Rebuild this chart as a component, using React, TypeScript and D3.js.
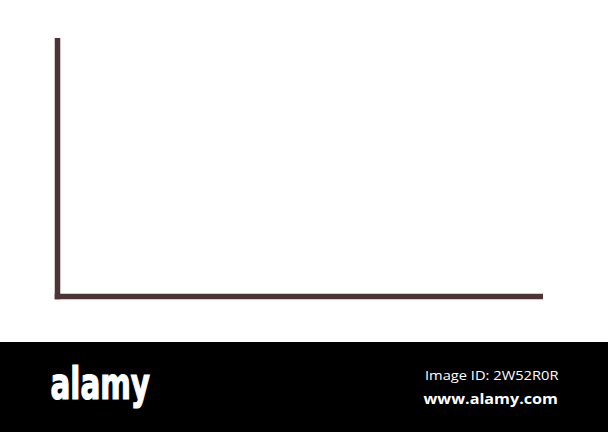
import React from "react";
import * as d3 from "d3";

const categories: string[] = [];
const values: number[] = [];
const xTickLabels: string[] = [];
const yTickLabels: string[] = [];
const brandText = "alamy";
const imageIdText = "Image ID: 2W52R0R";
const urlText = "www.alamy.com";

const W = 608;
const H = 432;
const margin = { left: 57.5, right: 65, top: 38, bottom: 135.5 };

export default function App() {
  const x = d3
    .scaleBand<string>()
    .domain(categories)
    .range([margin.left, W - margin.right]);
  const y = d3
    .scaleLinear()
    .domain([0, d3.max(values) ?? 1])
    .range([H - margin.bottom, margin.top]);
  const [x0, x1] = x.range();
  const [y0, y1] = y.range();
  const axisColor = "#4b3336";
  const sw = 5.5;
  return (
    <svg
      width={W}
      height={H}
      style={{ position: "absolute", left: 0, top: 0, background: "#fff" }}
    >
      <rect x={0} y={0} width={W} height={H} fill="#ffffff" />
      {/* y axis */}
      <line x1={x0} x2={x0} y1={y1} y2={y0 + sw / 2} stroke={axisColor} strokeWidth={sw} />
      {/* x axis */}
      <line x1={x0 - sw / 2} x2={x1} y1={y0} y2={y0} stroke={axisColor} strokeWidth={sw} />
      {xTickLabels.map((t, i) => (
        <text key={i}>{t}</text>
      ))}
      {yTickLabels.map((t, i) => (
        <text key={i}>{t}</text>
      ))}
      {/* banner */}
      <rect x={0} y={342} width={W} height={H - 342} fill="#000" />
      <text
        x={50.5}
        y={398.5}
        fill="#fff"
        stroke="#fff"
        strokeWidth={1.2}
        fontFamily="'DejaVu Sans Condensed', 'DejaVu Sans'"
        fontWeight="bold"
        fontSize={44}
        textLength={99.5}
        lengthAdjust="spacingAndGlyphs"
      >
        {brandText}
      </text>
      <text
        x={425}
        y={379.5}
        fill="#fff"
        fontFamily="'Open Sans', 'Noto Sans'"
        fontSize={13.5}
        textLength={133.5}
        lengthAdjust="spacingAndGlyphs"
      >
        {imageIdText}
      </text>
      <text
        x={423.5}
        y={403.5}
        fill="#fff"
        fontFamily="'Open Sans', 'Noto Sans'"
        fontWeight="bold"
        fontSize={15}
        textLength={134.5}
        lengthAdjust="spacingAndGlyphs"
      >
        {urlText}
      </text>
    </svg>
  );
}
